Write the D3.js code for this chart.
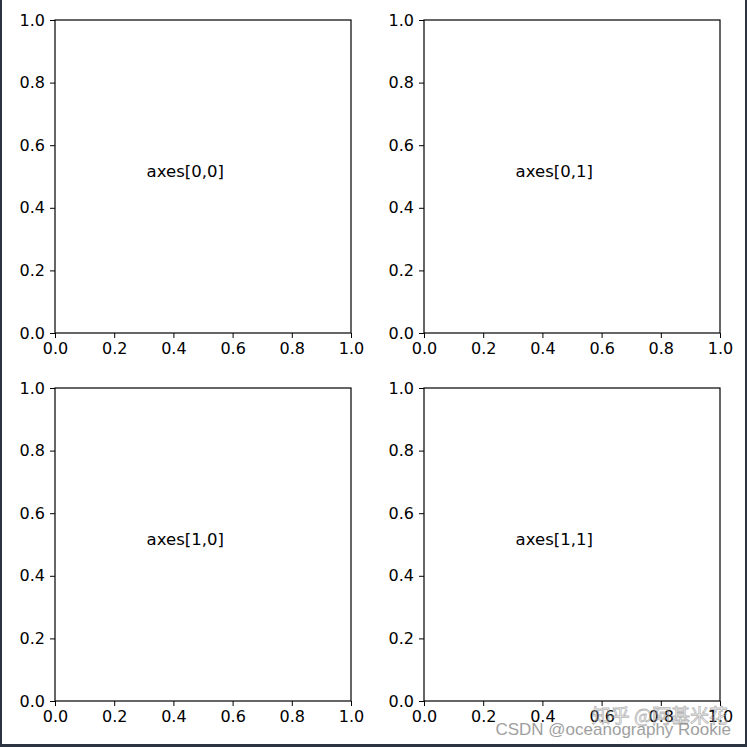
<!DOCTYPE html>
<html>
<head>
<meta charset="utf-8">
<script src="https://d3js.org/d3.v7.min.js"></script>
<style>body{margin:0;background:#fff}</style>
</head>
<body>
<div id="chart"></div>
<script>
var ticks = [0, 0.2, 0.4, 0.6, 0.8, 1.0];
var panelLabels = ["axes[0,0]", "axes[0,1]", "axes[1,0]", "axes[1,1]"];
var panelRows = [0, 0, 1, 1];
var panelCols = [0, 1, 0, 1];

var W = 747, H = 747;
var svg = d3.select("#chart").append("svg").attr("width", W).attr("height", H)
  .style("font-family", "DejaVu Sans").style("display", "block");
svg.append("rect").attr("width", W).attr("height", H).attr("fill", "#2b3440");
svg.append("rect").attr("x", 2).attr("y", 0).attr("width", W - 4).attr("height", H - 3).attr("fill", "#fff");

var colX = [55, 424], rowY = [20, 388], pw = 296, ph = 313;

panelLabels.forEach(function(lab, i) {
  var x0 = colX[panelCols[i]], y0 = rowY[panelRows[i]];
  var g = svg.append("g").attr("transform", "translate(" + x0 + "," + y0 + ")");
  var x = d3.scaleLinear().domain([0, 1]).range([0, pw]);
  var y = d3.scaleLinear().domain([0, 1]).range([ph, 0]);
  g.append("g").attr("transform", "translate(0," + ph + ")")
    .call(d3.axisBottom(x).tickValues(ticks).tickFormat(d3.format(".1f")).tickSize(5).tickPadding(5));
  g.append("g").call(d3.axisLeft(y).tickValues(ticks).tickFormat(d3.format(".1f")).tickSize(5).tickPadding(5));
  g.selectAll(".domain").remove();
  g.selectAll(".tick text").attr("font-size", 16).attr("fill", "#000").attr("font-family", "DejaVu Sans");
  g.selectAll(".tick line").attr("stroke", "#000").attr("stroke-width", 1);
  g.append("rect").attr("width", pw).attr("height", ph).attr("fill", "none").attr("stroke", "#000").attr("stroke-width", 1.2);
  g.append("text").attr("x", x(0.44)).attr("y", y(0.5) - 5).attr("dy", "0.35em")
    .attr("text-anchor", "middle").attr("font-size", 16.5).text(lab);
});

svg.append("text").attr("x", 728).attr("y", 723).attr("text-anchor", "end")
  .attr("font-size", 19).attr("fill", "none")
  .attr("stroke", "#999").attr("stroke-width", 0.8).attr("opacity", 0.7)
  .attr("font-family", "Noto Sans CJK SC").text("知乎 @阿基米花");
svg.append("text").attr("x", 731).attr("y", 735).attr("text-anchor", "end")
  .attr("font-size", 17).attr("fill", "#888").attr("opacity", 0.8)
  .attr("font-family", "Liberation Sans").text("CSDN @oceanography Rookie");
</script>
</body>
</html>
